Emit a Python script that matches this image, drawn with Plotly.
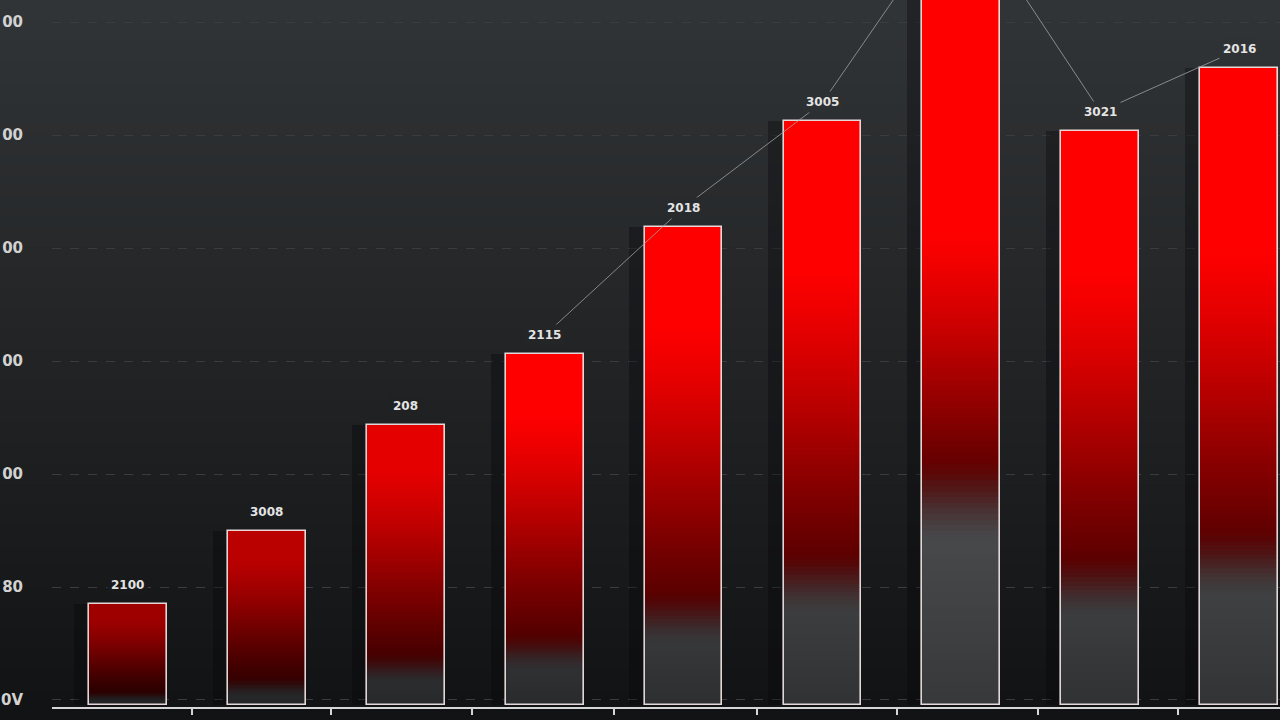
import plotly.graph_objects as go

# ---- data ----
x_index = [0, 1, 2, 3, 4, 5, 6, 7, 8]
values = [85, 150, 243, 306, 419, 512, 690, 504, 559]
labels = ["2100", "3008", "208", "2115", "2018", "3005", "2019", "3021", "2016"]
line_from = 3  # the thin trend line starts at this bar's label
ytick_vals = [0, 100, 200, 300, 400, 500, 600]
ytick_text = ["0V", "80", "00", "00", "00", "00", "00"]
xtick_vals = [-0.55, 0.46, 1.46, 2.48, 3.5, 4.53, 5.54, 6.55, 7.56]

# ---- styling helpers ----
Y0, Y1 = -6.2, 619.5
BASE = -4
K = 140
BAR_W = 0.56
LABEL_SHIFT = 19  # px
PX_PER_UNIT = 707 / (Y1 - Y0)
HMAX = max(values)


def lerp(a, b, t):
    return a + (b - a) * t


def smooth(a, b, x):
    if b <= a:
        return 1.0
    t = min(1.0, max(0.0, (x - a) / (b - a)))
    return t * t * (3 - 2 * t)


def bg_color(frac):
    stops = [(0.0, (18, 19, 20)), (0.5, (34, 36, 38)), (1.0, (50, 53, 55))]
    for (f0, c0), (f1, c1) in zip(stops[:-1], stops[1:]):
        if f0 <= frac <= f1:
            t = (frac - f0) / (f1 - f0)
            return tuple(int(lerp(c0[i], c1[i], t)) for i in range(3))
    return stops[-1][1] if frac > 1 else stops[0][1]


def bar_color(h, f):
    s = h / HMAX
    top_r = min(255.0, 120 + 135 * h / 300)
    a = 0.05 + 0.15 * s ** 3
    b = 0.85 - 0.25 * s ** 3
    t = min(1.0, max(0.0, (f - a) / (b - a)))
    t = 0.6 * t + 0.4 * smooth(0, 1, t)
    r = top_r * (0.22 + 0.78 * t)
    g_zone = 0.06 + 0.2 * s
    w = 1 - smooth(g_zone - 0.06, g_zone + 0.06, f)
    gray = 30 + 45 * s * (0.55 + 0.45 * min(1.0, f / max(g_zone, 1e-6)))
    rr = lerp(r, gray, w)
    gg = lerp(0, gray + 2, w)
    bb = lerp(0, gray + 4, w)
    return f"rgb({int(rr)},{int(gg)},{int(bb)})"


fig = go.Figure()

# background gradient bands
shapes = []
NB = 70
y_lo, y_hi = -0.02, 1.0
for i in range(NB):
    a = y_lo + (y_hi - y_lo) * i / NB
    b = y_lo + (y_hi - y_lo) * (i + 1) / NB + 0.002
    canvas_frac = (a * 707 + 13) / 720
    c = bg_color(canvas_frac)
    shapes.append(dict(type="rect", xref="paper", yref="paper", x0=-0.05, x1=1.01,
                       y0=a, y1=b, fillcolor=f"rgb{c}", line=dict(width=0), layer="below"))

# thin trend line through the labels
lx = x_index[line_from:]
ly = [v + LABEL_SHIFT / PX_PER_UNIT for v in values[line_from:]]
fig.add_trace(go.Scatter(x=lx, y=ly, mode="lines",
                         line=dict(color="rgba(165,168,171,0.75)", width=1),
                         hoverinfo="skip", showlegend=False))

# shadow strips left of each bar
fig.add_trace(go.Bar(x=x_index, y=[v - BASE for v in values], base=BASE,
                     width=0.11, offset=-BAR_W / 2 - 0.11,
                     marker=dict(color="rgba(6,7,8,0.35)", line=dict(width=0)),
                     hoverinfo="skip", showlegend=False))

# gradient bar slices
for k in range(K):
    f = (k + 0.5) / K
    fig.add_trace(go.Bar(
        x=x_index,
        y=[(v - BASE) / K * 1.05 for v in values],
        base=[BASE + (v - BASE) * k / K for v in values],
        width=BAR_W,
        marker=dict(color=[bar_color(v, f) for v in values], line=dict(width=0)),
        hoverinfo="skip", showlegend=False))

# bar outlines
fig.add_trace(go.Bar(x=x_index, y=[v - BASE for v in values], base=BASE, width=BAR_W,
                     marker=dict(color="rgba(0,0,0,0)",
                                 line=dict(color="rgba(238,224,224,0.95)", width=1.6)),
                     hoverinfo="skip", showlegend=False))

# value labels
annotations = []
for xi, v, t in zip(x_index, values, labels):
    py = 700 - v * PX_PER_UNIT - LABEL_SHIFT
    c = bg_color(1 - py / 720)
    annotations.append(dict(x=xi, y=v, yshift=LABEL_SHIFT, text=t, showarrow=False,
                            font=dict(size=12, color="#e4e4e4", family="DejaVu Sans", weight="bold"),
                            bgcolor=f"rgb{c}", borderpad=3))

fig.update_layout(
    width=1280, height=720,
    margin=dict(l=52, r=0, t=0, b=13, pad=0),
    paper_bgcolor="#141516",
    plot_bgcolor="rgba(0,0,0,0)",
    barmode="overlay",
    bargap=0,
    shapes=shapes,
    annotations=annotations,
    showlegend=False,
    xaxis=dict(range=[-0.547, 8.294], showgrid=False, zeroline=False,
               showline=True, linecolor="#d6d6d6", linewidth=2,
               ticks="outside", tickvals=xtick_vals, ticklen=6, tickwidth=2,
               tickcolor="#d6d6d6", showticklabels=False),
    yaxis=dict(range=[Y0, Y1], tickvals=ytick_vals, ticktext=ytick_text,
               showgrid=True, gridcolor="#3a3c3f", griddash="dash", gridwidth=1,
               zeroline=False, showline=False, ticks="", ticklabelstandoff=28,
               tickfont=dict(size=15, color="#d2d2d2", family="DejaVu Sans", weight="bold")),
)

fig.write_html("out.html", config={"displayModeBar": False},
               post_script="document.body.style.margin='0px';document.body.style.overflow='hidden';")
